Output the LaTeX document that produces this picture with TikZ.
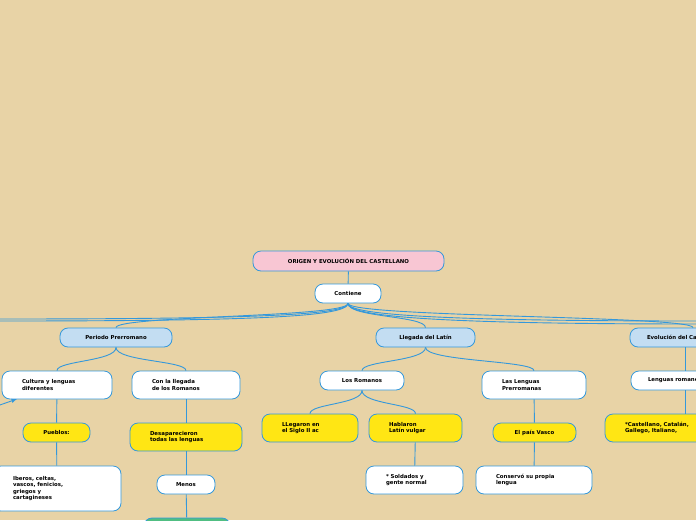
\documentclass[tikz,border=0pt]{standalone}
\usepackage{fontspec}
\setmainfont{DejaVu Sans}
\begin{document}
\begin{tikzpicture}[x=1pt,y=-1pt,
 bx/.style={draw={rgb,255:red,52;green,152;blue,219},line width=0.8pt,rounded corners=8pt,font=\bfseries\fontsize{5.4}{6.5}\selectfont,align=left,inner sep=0pt,anchor=center},
 w/.style={bx,fill=white}, pk/.style={bx,fill={rgb,255:red,248;green,198;blue,211}}, lb/.style={bx,fill={rgb,255:red,195;green,221;blue,242}},
 yl/.style={bx,fill={rgb,255:red,255;green,230;blue,20}}, gr/.style={bx,fill={rgb,255:red,80;green,190;blue,130}},
 ln/.style={draw={rgb,255:red,52;green,152;blue,219},line width=0.9pt}]
\fill[color={rgb,255:red,232;green,211;blue,166}] (0,0) rectangle (696,520);
\useasboundingbox (0,0) rectangle (696,520);
\newcommand{\bnode}[7]{\node[#1,minimum width=#4pt,minimum height=#5pt] (#6) at (#2,#3) {#7};}
\newcommand{\lnode}[7]{\node[#1,minimum width=#4pt,minimum height=#5pt,text width=#4pt-40pt] (#6) at (#2,#3) {#7};}
\newcommand{\rnode}[7]{\node[#1,minimum width=#4pt,minimum height=#5pt,text width=#4pt-34pt] (#6) at (#2,#3) {#7};}
\bnode{pk}{348.5}{261}{191}{20}{t}{ORIGEN Y EVOLUCIÓN DEL CASTELLANO}
\bnode{w}{348}{293.5}{66}{19}{c}{Contiene}
\bnode{lb}{116}{337.5}{112}{19}{pp}{Periodo Prerromano}
\bnode{lb}{425.5}{337.5}{99}{19}{ll}{Llegada del Latín}
\rnode{lb}{692}{337.5}{124}{19}{ev}{Evolución del Castellano}
\lnode{w}{57}{385}{110}{28}{cu}{Cultura y lenguas\\diferentes}
\lnode{w}{186}{385}{108}{28}{cl}{Con la llegada\\de los Romanos}
\bnode{w}{362}{380.5}{84}{19}{lr}{Los Romanos}
\lnode{w}{534}{385}{104}{28}{lp}{Las Lenguas\\Prerromanas}
\rnode{w}{693}{380.5}{124}{19}{lrom}{Lenguas romances}
\bnode{yl}{56.5}{432.5}{67}{19}{pu}{Pueblos:}
\lnode{yl}{186}{437}{112}{28}{de}{Desaparecieron\\todas las lenguas}
\lnode{yl}{310}{428}{96}{28}{lg}{LLegaron en\\el Siglo II ac}
\lnode{yl}{415.5}{428}{93}{28}{hl}{Hablaron\\Latín vulgar}
\bnode{yl}{534.5}{432.5}{83}{19}{pv}{El país Vasco}
\lnode{yl}{683}{428}{156}{28}{cas}{*Castellano, Catalán,\\Gallego, Italiano,}
\lnode{w}{57}{488.5}{128}{45}{ib}{Iberos, celtas,\\vascos, fenicios,\\griegos y\\cartagineses}
\bnode{w}{186}{484.5}{58}{19}{me}{Menos}
\lnode{w}{414.5}{480}{97}{28}{so}{* Soldados y\\gente normal}
\lnode{w}{534}{480}{116}{28}{co}{Conservó su propia\\lengua}
\bnode{gr}{187}{531}{86}{26}{gb}{}
\coordinate (l1) at (-5,319); \coordinate (l2) at (-5,321);
\coordinate (r1) at (701,321); \coordinate (r2) at (701,324);
\coordinate (a0) at (-3,406);
\draw[ln] (t) -- (c);
\foreach \e in {pp,ll}{\draw[ln] (c.south) .. controls +(0,14) and +(0,-12) .. (\e.north);}
\draw[ln] (c.south) .. controls +(0,14) and +(0,-12) .. (ev.north -| lrom.north);
\draw[ln] (c.south) .. controls +(0,12) and +(250,0) .. (l1);
\draw[ln] (c.south) .. controls +(0,14) and +(250,0) .. (l2);
\draw[ln] (c.south) .. controls +(0,12) and +(-250,0) .. (r1);
\draw[ln] (c.south) .. controls +(0,14) and +(-250,0) .. (r2);
\foreach \e in {cu,cl}{\draw[ln] (pp.south) .. controls +(0,14) and +(0,-10) .. (\e.north);}
\foreach \e in {lr,lp}{\draw[ln] (ll.south) .. controls +(0,14) and +(0,-10) .. (\e.north);}
\foreach \e in {lg,hl}{\draw[ln] (lr.south) .. controls +(0,14) and +(0,-10) .. (\e.north);}
\draw[ln] (ev.south -| 685,0)--(lrom.north -| 685,0); \draw[ln] (lrom.south -| 685,0)--(cas.north -| 685,0);
\draw[ln] (cu)--(pu); \draw[ln] (pu)--(ib);
\draw[ln] (cl)--(de); \draw[ln] (de)--(me); \draw[ln] (me)--(gb);
\draw[ln] (hl)--(so); \draw[ln] (lp)--(pv); \draw[ln] (pv)--(co);
\draw[ln,-latex] (a0) -- (17,399);
\end{tikzpicture}
\end{document}
